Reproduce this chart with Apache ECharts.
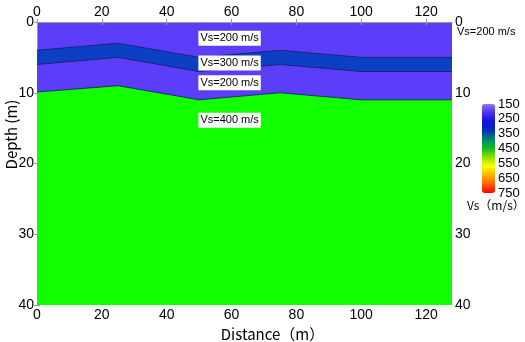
<!DOCTYPE html>
<html><head><meta charset="utf-8">
<script src="https://cdn.jsdelivr.net/npm/echarts@6/dist/echarts.min.js"></script>
<style>html,body{margin:0;padding:0;background:#fff}#c{width:525px;height:342px}</style>
</head><body><div id="c"></div>
<script>
// Data
const distance = [0, 25, 50, 75, 100, 128];
const topLayer2 = [4.0, 3.0, 5.0, 4.0, 5.0, 5.0];      // top of Vs=300 layer
const topLayer3 = [6.0, 5.0, 7.0, 6.0, 7.0, 7.0];      // top of second Vs=200 layer
const topHalfspace = [9.9, 9.0, 11.0, 10.0, 11.0, 11.0]; // top of Vs=400 half-space
const layerLabels = ['Vs=200 m/s', 'Vs=300 m/s', 'Vs=200 m/s', 'Vs=400 m/s'];
const labelDepths = [2.3, 5.8, 8.6, 13.9];
const labelDistance = 59.4;
const colorbarTicks = [150, 250, 350, 450, 550, 650, 750];

const cViolet = '#5b3dfa', cDark = '#0b40c4', cGreen = '#12ff00';

const chart = echarts.init(document.getElementById('c'));
const pair = arr => distance.map((x, i) => [x, arr[i]]);
const axisCommon = {
  type: 'value', min: 0, splitLine: {show: false},
  axisLine: {show: true, lineStyle: {color: '#999', width: 1}},
  axisTick: {show: true, length: 3, lineStyle: {color: '#999'}},
  axisLabel: {color: '#000', fontSize: 14, fontFamily: 'Liberation Sans', margin: 3}
};
const xLabel = Object.assign({}, axisCommon.axisLabel, {showMaxLabel: false});
const lineSeries = (arr, fill) => ({
  type: 'line', data: pair(arr), symbol: 'none', silent: true,
  lineStyle: {color: '#1a1a55', width: 0.8},
  areaStyle: {color: fill, opacity: 1, origin: 'end'},
  xAxisIndex: 0, yAxisIndex: 0, z: 2
});
chart.setOption({
  animation: false,
  grid: [
    {left: 37, right: 73, top: 22, bottom: 37, backgroundColor: cViolet, show: true, borderWidth: 0,
      containLabel: false, outerBoundsMode: 'none'},
    {left: 482, top: 104, width: 13, height: 89, show: false, containLabel: false, outerBoundsMode: 'none'}
  ],
  xAxis: [
    Object.assign({}, axisCommon, {gridIndex: 0, max: 128, interval: 20, position: 'bottom', axisLabel: xLabel,
      name: 'Distance（m）', nameLocation: 'middle', nameGap: 18,
      nameTextStyle: {fontSize: 15, fontFamily: 'Noto Sans CJK SC', color: '#000', padding: [0, 0, 0, 56]}}),
    Object.assign({}, axisCommon, {gridIndex: 0, max: 128, interval: 20, position: 'top', axisLabel: xLabel}),
    {type: 'value', gridIndex: 1, show: false, min: 0, max: 1}
  ],
  yAxis: [
    Object.assign({}, axisCommon, {gridIndex: 0, max: 40, interval: 10, inverse: true, position: 'left',
      name: 'Depth (m)', nameLocation: 'middle', nameGap: 18, nameMoveOverlap: false,
      nameTextStyle: {fontSize: 15, fontFamily: 'Noto Sans CJK SC', color: '#000', padding: [0, 0, 0, 58]}}),
    Object.assign({}, axisCommon, {gridIndex: 0, max: 40, interval: 10, inverse: true, position: 'right'}),
    {type: 'value', gridIndex: 1, min: 150, max: 750, interval: 100, inverse: true, position: 'right',
      axisLine: {show: false}, axisTick: {show: false}, splitLine: {show: false},
      axisLabel: {color: '#000', fontSize: 13, fontFamily: 'Liberation Sans', margin: 3,
        customValues: colorbarTicks}}
  ],
  visualMap: {
    type: 'continuous', min: 150, max: 750, inverse: true, calculable: false,
    left: 482, top: 104, itemWidth: 13, itemHeight: 89, text: ['', ''], showLabel: false,
    seriesIndex: 4, padding: 0,
    inRange: {color: ['#9070ff', '#4a30f0', '#1010e0', '#0030b8', '#008870', '#10c020', '#90e000', '#ffff00', '#ffb000', '#ff6000', '#ff0000']}
  },
  graphic: [
    {type: 'text', left: 457, top: 26, style: {text: 'Vs=200 m/s', fontSize: 11, fontFamily: 'Liberation Sans', fill: '#000'}},
    {type: 'text', left: 467, top: 199, style: {text: 'Vs（m/s）', fontSize: 12, fontFamily: 'Noto Sans CJK SC', fill: '#000'}}
  ],
  series: [
    lineSeries(topLayer2, cDark),
    lineSeries(topLayer3, cViolet),
    lineSeries(topHalfspace, cGreen),
    {
      type: 'scatter', xAxisIndex: 0, yAxisIndex: 0, symbolSize: 0, z: 5, silent: true,
      itemStyle: {opacity: 1},
      data: layerLabels.map((t, i) => ({value: [labelDistance, labelDepths[i]], name: t})),
      label: {show: true, position: 'inside', formatter: p => p.name, color: '#000', opacity: 1,
        backgroundColor: '#fff', padding: [2, 2], fontSize: 11, fontFamily: 'Liberation Sans'}
    },
    {type: 'scatter', xAxisIndex: 2, yAxisIndex: 2, data: []}
  ]
});
</script></body></html>
